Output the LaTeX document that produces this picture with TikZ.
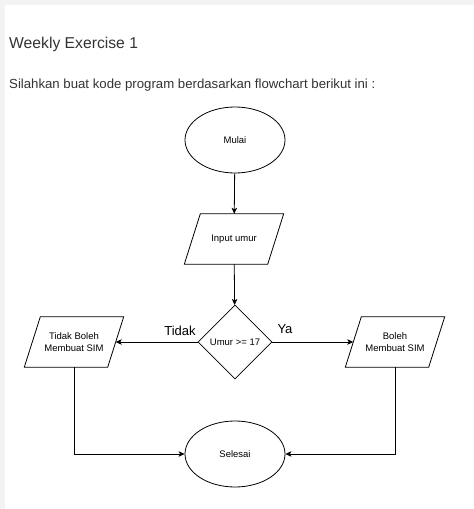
\documentclass[tikz,border=0pt]{standalone}
\usepackage{fontspec}
\setmainfont{Liberation Sans}
\usetikzlibrary{shapes.geometric,arrows.meta}
\definecolor{titlegray}{HTML}{333333}
\definecolor{stripgray}{HTML}{F3F3F3}
\begin{document}
\begin{tikzpicture}[x=1pt,y=-1pt,
  every node/.style={font=\fontsize{9.5}{12.5}\selectfont, text=black},
  line/.style={draw=black, line width=0.8pt},
  arr/.style={line, -{Stealth[length=6pt,width=5.5pt,inset=1.5pt]}},
  term/.style={ellipse, line, minimum width=100pt, minimum height=66pt, inner sep=0pt},
  io/.style={rectangle, minimum width=83pt, minimum height=50pt, inner sep=0pt, align=center},
  decision/.style={diamond, line, minimum width=74pt, minimum height=74pt, inner sep=0pt, aspect=1},
  lbl/.style={font=\fontsize{13}{15}\selectfont}
]
\useasboundingbox (0,0) rectangle (474,509);
\fill[stripgray] (0,0) rectangle (5,509);
\fill[stripgray] (0,0) rectangle (474,5);

\node[anchor=base west, inner sep=0pt, font=\fontsize{15.7}{18}\selectfont, text=titlegray] (title) at (9,48) {Weekly Exercise 1};
\node[anchor=base west, inner sep=0pt, font=\fontsize{13.2}{15}\selectfont, text=titlegray] (sub) at (9,88) {Silahkan buat kode program berdasarkan flowchart berikut ini :};

\node[term] (mulai) at (235,140) {Mulai};
\node[io] (input) at (234,239) {Input umur};
\node[decision] (cek) at (235,342) {Umur >= 17};
\node[io] (tidak) at (74,342) {Tidak Boleh\\Membuat SIM};
\node[io] (boleh) at (395,342) {Boleh\\Membuat SIM};
\node[term] (selesai) at (235,454) {Selesai};

\foreach \n in {input,tidak,boleh}
  \draw[line] ([xshift=8pt]\n.north west) -- ([xshift=8pt]\n.north east)
     -- ([xshift=-8pt]\n.south east) -- ([xshift=-8pt]\n.south west) -- cycle;

\node[lbl] (ltidak) at (180,331) {Tidak};
\node[lbl] (lya) at (285,329) {Ya};

\draw[arr] (mulai) -- (input);
\draw[arr] (input) -- (cek);
\draw[arr] (cek) -- (tidak);
\draw[arr] (cek) -- (boleh);
\draw[arr] (tidak.south) |- (selesai.west);
\draw[arr] (boleh.south) |- (selesai.east);
\end{tikzpicture}
\end{document}
